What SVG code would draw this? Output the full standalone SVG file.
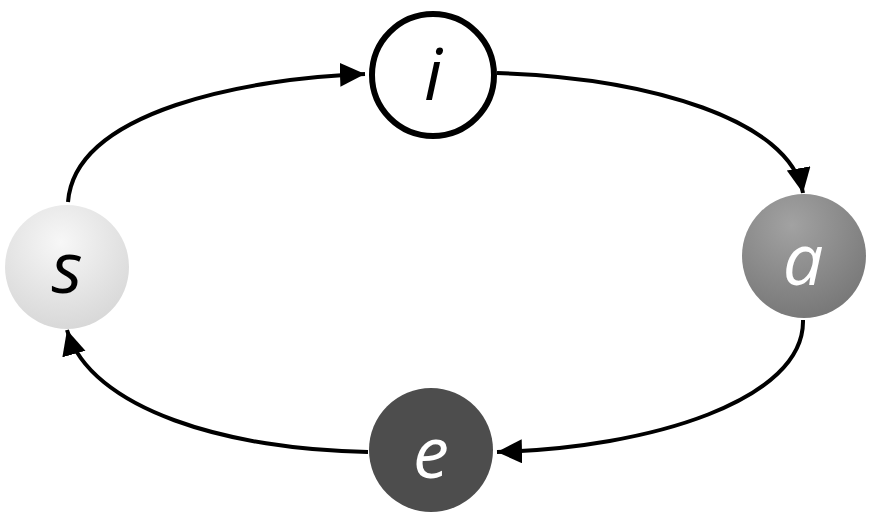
<svg xmlns="http://www.w3.org/2000/svg" width="872" height="519" viewBox="0 0 872 519">
<style>
.lbl{font-family:"Open Sans","Noto Sans",sans-serif;font-style:italic;font-weight:500;font-size:72px;text-anchor:middle}
.edge{fill:none;stroke:#000;stroke-width:4}
</style>
<defs>
<marker id="arr" markerUnits="userSpaceOnUse" markerWidth="26" markerHeight="26" refX="25" refY="12" orient="auto">
<path d="M0,0 L25,12 L0,24 z" fill="#000"/>
</marker>
<radialGradient id="gs" cx="0.45" cy="0.3" r="0.75">
<stop offset="0" stop-color="#f7f7f7"/>
<stop offset="1" stop-color="#d6d6d6"/>
</radialGradient>
<radialGradient id="ga" cx="0.4" cy="0.25" r="0.8">
<stop offset="0" stop-color="#a2a2a2"/>
<stop offset="1" stop-color="#767676"/>
</radialGradient>
</defs>
<g id="connectors">
<path class="edge" d="M68,202 C75,110 250,78 365,74" marker-end="url(#arr)"/>
<path class="edge" d="M497,73 C650,78 790,120 803,193" marker-end="url(#arr)"/>
<path class="edge" d="M803,320 C805,400 650,448 497,452" marker-end="url(#arr)"/>
<path class="edge" d="M368,452 C230,450 90,410 67,330" marker-end="url(#arr)"/>
</g>
<g id="node-i">
<circle cx="433" cy="75" r="61" fill="#fff" stroke="#000" stroke-width="6"/>
<text class="lbl" x="433" y="100" fill="#000">i</text>
</g>
<g id="node-s">
<circle cx="67" cy="267" r="62" fill="url(#gs)"/>
<text class="lbl" x="67" y="293" fill="#000">s</text>
</g>
<g id="node-a">
<circle cx="804" cy="256" r="62" fill="url(#ga)"/>
<text class="lbl" x="803" y="285" fill="#fff">a</text>
</g>
<g id="node-e">
<circle cx="431" cy="450" r="62" fill="#4d4d4d"/>
<text class="lbl" x="431" y="478" fill="#fff">e</text>
</g>
</svg>
